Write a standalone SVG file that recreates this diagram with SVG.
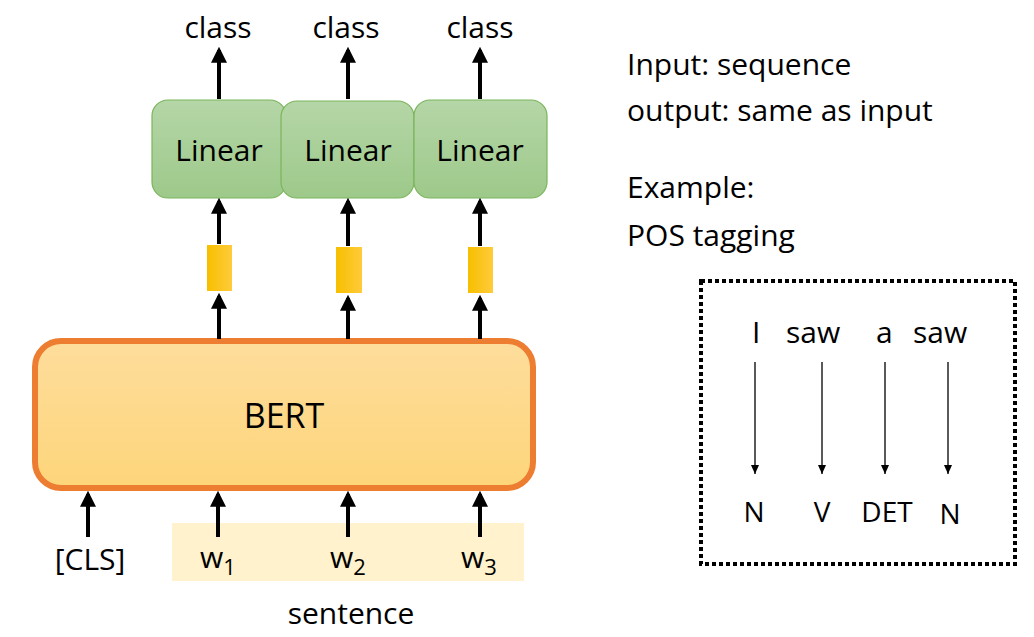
<svg xmlns="http://www.w3.org/2000/svg" width="1034" height="637" viewBox="0 0 1034 637">
<defs>
<linearGradient id="gG" x1="0" y1="0" x2="0" y2="1"><stop offset="0" stop-color="#B5D6A7"/><stop offset="1" stop-color="#9DC98A"/></linearGradient>
<linearGradient id="gO" x1="0" y1="0" x2="0" y2="1"><stop offset="0" stop-color="#FEDD9C"/><stop offset="1" stop-color="#FDD57A"/></linearGradient>
<linearGradient id="gY" x1="0" y1="0" x2="1" y2="0"><stop offset="0" stop-color="#F7BF00"/><stop offset="1" stop-color="#FFCB3A"/></linearGradient>
<marker id="ah" markerWidth="4" markerHeight="4" refX="3.2" refY="2" orient="auto" markerUnits="strokeWidth"><path d="M0,0 L4,2 L0,4 z" fill="#000"/></marker>
<marker id="ahs" markerWidth="10" markerHeight="10" refX="9" refY="4" orient="auto" markerUnits="userSpaceOnUse"><path d="M0,0 L9,4 L0,8 z" fill="#000"/></marker>
</defs>
<style>
text{font-family:"Open Sans","Noto Sans","DejaVu Sans",sans-serif;fill:#000}
.lin{fill:url(#gG);stroke:#7AB55C;stroke-width:1.2}
.yel{fill:url(#gY)}
.a{stroke:#000;stroke-width:4;marker-end:url(#ah)}
.t{stroke:#000;stroke-width:1.3;marker-end:url(#ahs)}
</style>
<rect x="172" y="523" width="352" height="58" fill="#FFF2CC"/>
<g id="bert"><rect x="35" y="341" width="498" height="147" rx="26" fill="url(#gO)" stroke="#ED7D31" stroke-width="6"/><text x="284" y="428" font-size="34" text-anchor="middle">BERT</text></g>
<g id="linear1"><rect class="lin" x="152" y="100" width="134" height="98" rx="16"/><text x="219" y="161" font-size="30" text-anchor="middle">Linear</text></g>
<g id="linear2"><rect class="lin" x="281" y="101" width="133" height="97" rx="16"/><text x="348" y="161" font-size="30" text-anchor="middle">Linear</text></g>
<g id="linear3"><rect class="lin" x="414" y="100" width="133" height="98" rx="16"/><text x="480" y="161" font-size="30" text-anchor="middle">Linear</text></g>
<g id="vec1"><rect class="yel" x="207" y="245" width="25" height="46"/></g>
<g id="vec2"><rect class="yel" x="336" y="247" width="26" height="46"/></g>
<g id="vec3"><rect class="yel" x="468" y="247" width="25" height="46"/></g>
<g id="connectors">
<line class="a" x1="88" y1="537" x2="88" y2="494"/>
<line class="a" x1="218" y1="537" x2="218" y2="494"/>
<line class="a" x1="348" y1="537" x2="348" y2="494"/>
<line class="a" x1="480" y1="537" x2="480" y2="494"/>
<line class="a" x1="219" y1="339" x2="219" y2="296"/>
<line class="a" x1="348" y1="339" x2="348" y2="298"/>
<line class="a" x1="480" y1="339" x2="480" y2="298"/>
<line class="a" x1="219" y1="244" x2="219" y2="201"/>
<line class="a" x1="348" y1="246" x2="348" y2="201"/>
<line class="a" x1="480" y1="246" x2="480" y2="201"/>
<line class="a" x1="219" y1="99" x2="219" y2="50"/>
<line class="a" x1="348" y1="99" x2="348" y2="50"/>
<line class="a" x1="480" y1="99" x2="480" y2="50"/>
<line class="t" x1="755" y1="362" x2="755" y2="474"/>
<line class="t" x1="822" y1="362" x2="822" y2="474"/>
<line class="t" x1="885" y1="362" x2="885" y2="474"/>
<line class="t" x1="948" y1="362" x2="948" y2="474"/>
</g>
<g font-size="30">
<text x="218" y="38" text-anchor="middle">class</text>
<text x="346" y="38" text-anchor="middle">class</text>
<text x="480" y="38" text-anchor="middle">class</text>
<text x="90" y="570" text-anchor="middle">[CLS]</text>
<text x="200" y="568">w<tspan font-size="22" dy="7">1</tspan></text>
<text x="330" y="568">w<tspan font-size="22" dy="7">2</tspan></text>
<text x="461" y="568">w<tspan font-size="22" dy="7">3</tspan></text>
<text x="351" y="624" text-anchor="middle">sentence</text>
<text x="627" y="75">Input: sequence</text>
<text x="627" y="121">output: same as input</text>
<text x="627" y="198">Example:</text>
<text x="627" y="246">POS tagging</text>
<text x="752" y="343">I</text>
<text x="786" y="343">saw</text>
<text x="876" y="343">a</text>
<text x="913" y="343">saw</text>
</g>
<g font-size="28">
<text x="754" y="522" text-anchor="middle">N</text>
<text x="822" y="522" text-anchor="middle">V</text>
<text x="887" y="522" text-anchor="middle">DET</text>
<text x="950" y="524" text-anchor="middle">N</text>
</g>
<rect x="701" y="281" width="314" height="283" fill="none" stroke="#000" stroke-width="4" stroke-dasharray="4 3"/>
</svg>
